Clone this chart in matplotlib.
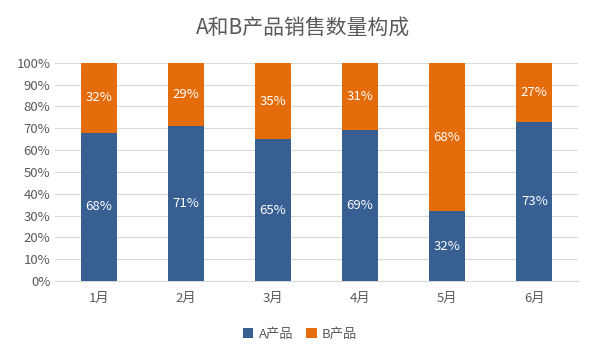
import matplotlib
matplotlib.use("Agg")
import matplotlib.pyplot as plt
import numpy as np

plt.rcParams['font.family'] = ['Noto Sans CJK SC', 'DejaVu Sans']

months = ["1月", "2月", "3月", "4月", "5月", "6月"]
share_a = [68, 71, 65, 69, 32, 73]
share_b = [32, 29, 35, 31, 68, 27]

blue = "#375F92"
orange = "#E46C0A"
grey = "#595959"

fig = plt.figure(figsize=(6, 3.59), dpi=100)
ax = fig.add_axes([0.092, 0.217, 0.871, 0.608])

x = np.arange(len(months))
w = 0.41
ax.bar(x, share_a, w, color=blue, label="A产品", zorder=3)
ax.bar(x, share_b, w, bottom=share_a, color=orange, label="B产品", zorder=3)

for i in range(len(months)):
    ax.text(x[i], share_a[i] / 2, f"{share_a[i]}%", ha="center", va="center",
            color="white", fontsize=9.5, zorder=4)
    ax.text(x[i], share_a[i] + share_b[i] / 2, f"{share_b[i]}%", ha="center",
            va="center", color="white", fontsize=9.5, zorder=4)

ax.set_xlim(-0.5, len(months) - 0.5)
ax.set_ylim(0, 100)
ax.set_yticks(range(0, 101, 10))
ax.set_yticklabels([f"{v}%" for v in range(0, 101, 10)])
ax.set_xticks(x)
ax.set_xticklabels(months)
ax.tick_params(length=0, colors=grey, labelsize=9.5)
ax.tick_params(axis="x", pad=8)
ax.grid(axis="y", color="#D9D9D9", linewidth=0.8, zorder=0)
for s in ["top", "right", "left"]:
    ax.spines[s].set_visible(False)
ax.spines["bottom"].set_color("#D9D9D9")

fig.text(0.505, 0.922, "A和B产品销售数量构成", ha="center", va="center",
         fontsize=15, color=grey)
fig.legend(loc="center", bbox_to_anchor=(0.5, 0.07), ncol=2, frameon=False,
           fontsize=9.5, handlelength=0.8, handleheight=0.8, columnspacing=1.0,
           handletextpad=0.4, labelcolor=grey)

fig.savefig("out.png")
